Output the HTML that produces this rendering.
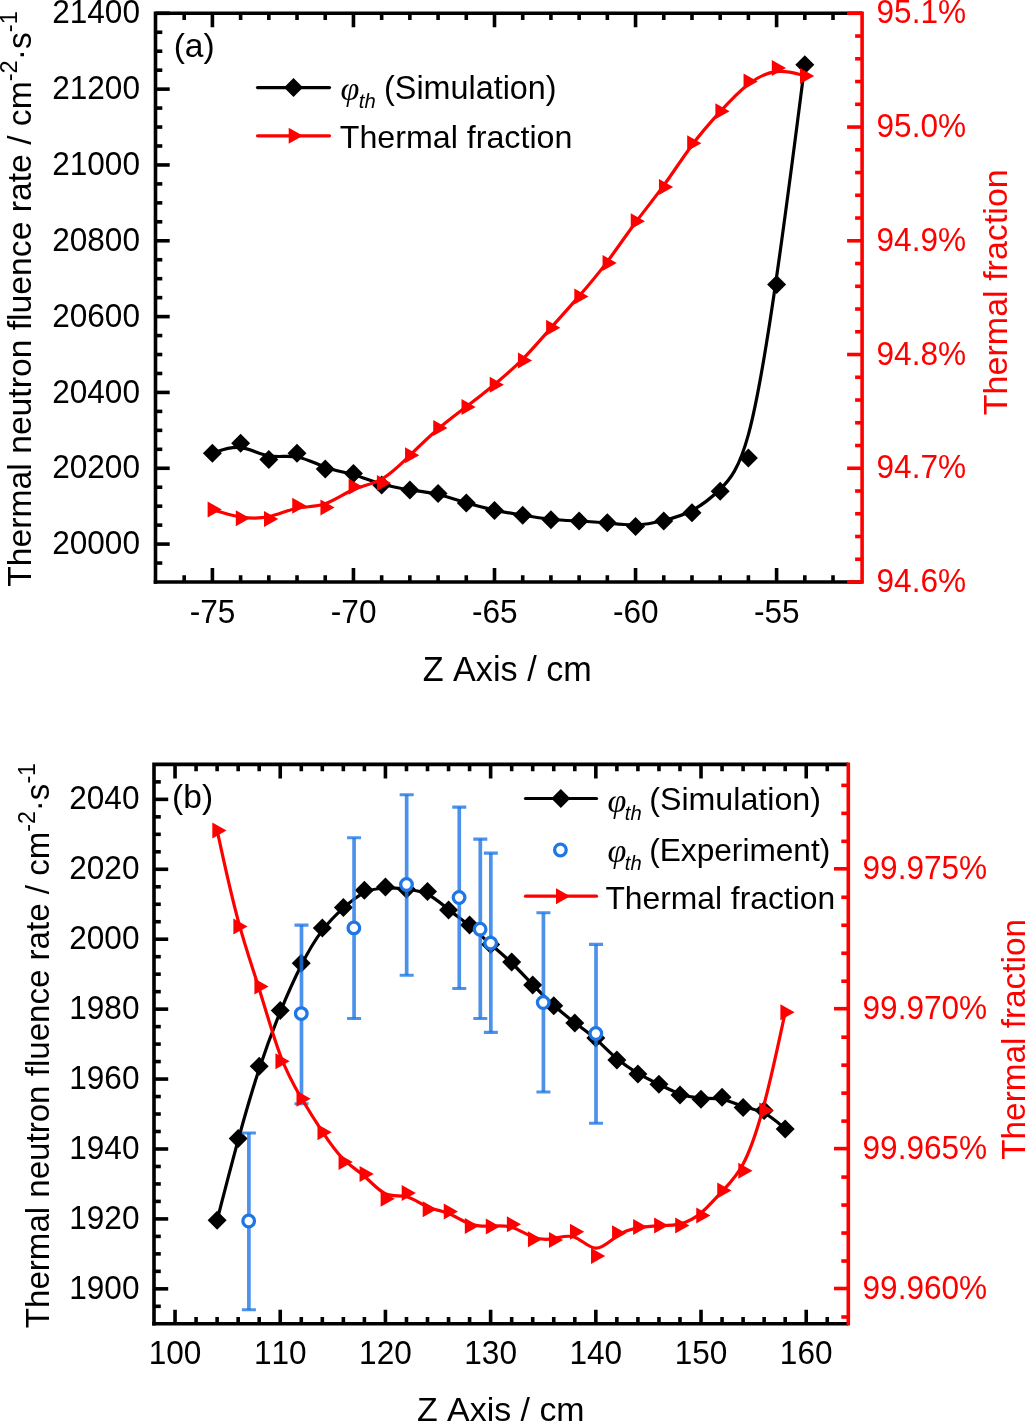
<!DOCTYPE html>
<html><head><meta charset="utf-8"><title>Thermal neutron fluence rate</title>
<style>html,body{margin:0;padding:0;background:#fff}svg{display:block}</style></head>
<body>
<svg width="1025" height="1421" viewBox="0 0 1025 1421" font-family="'Liberation Sans',sans-serif" fill="#000" style="font-kerning:none">
<rect width="1025" height="1421" fill="#fff"/>
<path d="M212.40 453.30 C212.40 453.30 212.40 453.30 217.10 451.62 C221.80 449.93 231.21 446.57 240.61 447.62 C250.01 448.67 259.42 454.13 268.82 455.82 C278.22 457.50 287.63 455.40 297.03 456.97 C306.43 458.53 315.84 463.77 325.24 467.15 C334.64 470.53 344.05 472.07 353.45 474.73 C362.85 477.40 372.26 481.20 381.66 483.93 C391.06 486.67 400.47 488.33 409.87 489.75 C419.27 491.17 428.68 492.33 438.08 494.52 C447.48 496.70 456.89 499.90 466.29 502.73 C475.69 505.57 485.10 508.03 494.50 510.07 C503.90 512.10 513.31 513.70 522.71 515.25 C532.11 516.80 541.52 518.30 550.92 519.23 C560.32 520.17 569.73 520.53 579.13 521.02 C588.53 521.50 597.94 522.10 607.34 523.03 C616.74 523.97 626.15 525.23 635.55 524.93 C644.95 524.63 654.36 522.77 663.76 520.47 C673.16 518.17 682.57 515.43 691.97 510.48 C701.37 505.53 710.78 498.37 720.18 489.23 C729.58 480.10 738.99 469.00 748.39 434.57 C757.79 400.13 767.20 342.37 776.60 276.83 C786.00 211.30 795.41 138.00 800.11 101.35 C804.81 64.70 804.81 64.70 804.81 64.70" fill="none" stroke="#000" stroke-width="3.20" stroke-linecap="round"/>
<g fill="#000"><path d="M202.90 453.30 L212.40 443.80 L221.90 453.30 L212.40 462.80Z"/><path d="M231.11 443.20 L240.61 433.70 L250.11 443.20 L240.61 452.70Z"/><path d="M259.32 459.60 L268.82 450.10 L278.32 459.60 L268.82 469.10Z"/><path d="M287.53 453.30 L297.03 443.80 L306.53 453.30 L297.03 462.80Z"/><path d="M315.74 469.00 L325.24 459.50 L334.74 469.00 L325.24 478.50Z"/><path d="M343.95 473.60 L353.45 464.10 L362.95 473.60 L353.45 483.10Z"/><path d="M372.16 485.00 L381.66 475.50 L391.16 485.00 L381.66 494.50Z"/><path d="M400.37 490.00 L409.87 480.50 L419.37 490.00 L409.87 499.50Z"/><path d="M428.58 493.50 L438.08 484.00 L447.58 493.50 L438.08 503.00Z"/><path d="M456.79 503.10 L466.29 493.60 L475.79 503.10 L466.29 512.60Z"/><path d="M485.00 510.50 L494.50 501.00 L504.00 510.50 L494.50 520.00Z"/><path d="M513.21 515.30 L522.71 505.80 L532.21 515.30 L522.71 524.80Z"/><path d="M541.42 519.80 L550.92 510.30 L560.42 519.80 L550.92 529.30Z"/><path d="M569.63 520.90 L579.13 511.40 L588.63 520.90 L579.13 530.40Z"/><path d="M597.84 522.70 L607.34 513.20 L616.84 522.70 L607.34 532.20Z"/><path d="M626.05 526.50 L635.55 517.00 L645.05 526.50 L635.55 536.00Z"/><path d="M654.26 520.90 L663.76 511.40 L673.26 520.90 L663.76 530.40Z"/><path d="M682.47 512.70 L691.97 503.20 L701.47 512.70 L691.97 522.20Z"/><path d="M710.68 491.20 L720.18 481.70 L729.68 491.20 L720.18 500.70Z"/><path d="M738.89 457.90 L748.39 448.40 L757.89 457.90 L748.39 467.40Z"/><path d="M767.10 284.60 L776.60 275.10 L786.10 284.60 L776.60 294.10Z"/><path d="M795.31 64.70 L804.81 55.20 L814.31 64.70 L804.81 74.20Z"/></g>
<path d="M212.40 509.50 C212.40 509.50 212.40 509.50 217.10 510.95 C221.80 512.40 231.21 515.30 240.61 516.88 C250.01 518.47 259.42 518.73 268.82 516.67 C278.22 514.60 287.63 510.20 297.03 508.27 C306.43 506.33 315.84 506.87 325.24 503.68 C334.64 500.50 344.05 493.60 353.45 489.55 C362.85 485.50 372.26 484.30 381.66 479.07 C391.06 473.83 400.47 464.57 409.87 455.38 C419.27 446.20 428.68 437.10 438.08 429.05 C447.48 421.00 456.89 414.00 466.29 406.78 C475.69 399.57 485.10 392.13 494.50 384.40 C503.90 376.67 513.31 368.63 522.71 359.13 C532.11 349.63 541.52 338.67 550.92 327.98 C560.32 317.30 569.73 306.90 579.13 296.12 C588.53 285.33 597.94 274.17 607.34 261.63 C616.74 249.10 626.15 235.20 635.55 222.53 C644.95 209.87 654.36 198.43 663.76 185.42 C673.16 172.40 682.57 157.80 691.97 145.18 C701.37 132.57 710.78 121.93 720.18 111.65 C729.58 101.37 738.99 91.43 748.39 84.22 C757.79 77.00 767.20 72.50 776.60 71.57 C786.00 70.63 795.41 73.27 800.11 74.58 C804.81 75.90 804.81 75.90 804.81 75.90" fill="none" stroke="#ff0000" stroke-width="3.20" stroke-linecap="round"/>
<g fill="#ff0000"><path d="M207.60 501.50 L221.80 509.50 L207.60 517.50Z"/><path d="M235.81 510.20 L250.01 518.20 L235.81 526.20Z"/><path d="M264.02 511.00 L278.22 519.00 L264.02 527.00Z"/><path d="M292.23 497.80 L306.43 505.80 L292.23 513.80Z"/><path d="M320.44 499.40 L334.64 507.40 L320.44 515.40Z"/><path d="M348.65 478.70 L362.85 486.70 L348.65 494.70Z"/><path d="M376.86 475.10 L391.06 483.10 L376.86 491.10Z"/><path d="M405.07 447.30 L419.27 455.30 L405.07 463.30Z"/><path d="M433.28 420.00 L447.48 428.00 L433.28 436.00Z"/><path d="M461.49 399.00 L475.69 407.00 L461.49 415.00Z"/><path d="M489.70 376.70 L503.90 384.70 L489.70 392.70Z"/><path d="M517.91 352.60 L532.11 360.60 L517.91 368.60Z"/><path d="M546.12 319.70 L560.32 327.70 L546.12 335.70Z"/><path d="M574.33 288.50 L588.53 296.50 L574.33 304.50Z"/><path d="M602.54 255.00 L616.74 263.00 L602.54 271.00Z"/><path d="M630.75 213.30 L644.95 221.30 L630.75 229.30Z"/><path d="M658.96 179.00 L673.16 187.00 L658.96 195.00Z"/><path d="M687.17 135.20 L701.37 143.20 L687.17 151.20Z"/><path d="M715.38 103.30 L729.58 111.30 L715.38 119.30Z"/><path d="M743.59 73.50 L757.79 81.50 L743.59 89.50Z"/><path d="M771.80 60.00 L786.00 68.00 L771.80 76.00Z"/><path d="M800.01 67.90 L814.21 75.90 L800.01 83.90Z"/></g>
<g stroke="#000" stroke-width="3.60" fill="none" stroke-linecap="butt">
<path d="M862.10 13.30 L155.50 13.30 L155.50 583.80"/>
<path d="M153.70 582.00 L862.10 582.00"/>
<path d="M212.40 582.00v-14 M212.40 13.30v14"/>
<path d="M353.45 582.00v-14 M353.45 13.30v14"/>
<path d="M494.50 582.00v-14 M494.50 13.30v14"/>
<path d="M635.55 582.00v-14 M635.55 13.30v14"/>
<path d="M776.60 582.00v-14 M776.60 13.30v14"/>
<path d="M184.19 582.00v-6.8 M184.19 13.30v6.8"/>
<path d="M240.61 582.00v-6.8 M240.61 13.30v6.8"/>
<path d="M268.82 582.00v-6.8 M268.82 13.30v6.8"/>
<path d="M297.03 582.00v-6.8 M297.03 13.30v6.8"/>
<path d="M325.24 582.00v-6.8 M325.24 13.30v6.8"/>
<path d="M381.66 582.00v-6.8 M381.66 13.30v6.8"/>
<path d="M409.87 582.00v-6.8 M409.87 13.30v6.8"/>
<path d="M438.08 582.00v-6.8 M438.08 13.30v6.8"/>
<path d="M466.29 582.00v-6.8 M466.29 13.30v6.8"/>
<path d="M522.71 582.00v-6.8 M522.71 13.30v6.8"/>
<path d="M550.92 582.00v-6.8 M550.92 13.30v6.8"/>
<path d="M579.13 582.00v-6.8 M579.13 13.30v6.8"/>
<path d="M607.34 582.00v-6.8 M607.34 13.30v6.8"/>
<path d="M663.76 582.00v-6.8 M663.76 13.30v6.8"/>
<path d="M691.97 582.00v-6.8 M691.97 13.30v6.8"/>
<path d="M720.18 582.00v-6.8 M720.18 13.30v6.8"/>
<path d="M748.39 582.00v-6.8 M748.39 13.30v6.8"/>
<path d="M804.81 582.00v-6.8 M804.81 13.30v6.8"/>
<path d="M833.02 582.00v-6.8 M833.02 13.30v6.8"/>
<path d="M155.50 544.09h14.2"/>
<path d="M155.50 468.26h14.2"/>
<path d="M155.50 392.43h14.2"/>
<path d="M155.50 316.61h14.2"/>
<path d="M155.50 240.78h14.2"/>
<path d="M155.50 164.95h14.2"/>
<path d="M155.50 89.13h14.2"/>
<path d="M155.50 13.30h14.2"/>
<path d="M155.50 563.04h6.8"/>
<path d="M155.50 525.13h6.8"/>
<path d="M155.50 506.17h6.8"/>
<path d="M155.50 487.22h6.8"/>
<path d="M155.50 449.30h6.8"/>
<path d="M155.50 430.35h6.8"/>
<path d="M155.50 411.39h6.8"/>
<path d="M155.50 373.48h6.8"/>
<path d="M155.50 354.52h6.8"/>
<path d="M155.50 335.56h6.8"/>
<path d="M155.50 297.65h6.8"/>
<path d="M155.50 278.69h6.8"/>
<path d="M155.50 259.74h6.8"/>
<path d="M155.50 221.82h6.8"/>
<path d="M155.50 202.87h6.8"/>
<path d="M155.50 183.91h6.8"/>
<path d="M155.50 146.00h6.8"/>
<path d="M155.50 127.04h6.8"/>
<path d="M155.50 108.08h6.8"/>
<path d="M155.50 70.17h6.8"/>
<path d="M155.50 51.21h6.8"/>
<path d="M155.50 32.26h6.8"/>
</g>
<g stroke="#ff0000" stroke-width="3.60" fill="none">
<path d="M862.10 11.50V583.80"/>
<path d="M862.10 582.00h-15.0"/>
<path d="M862.10 468.26h-15.0"/>
<path d="M862.10 354.52h-15.0"/>
<path d="M862.10 240.78h-15.0"/>
<path d="M862.10 127.04h-15.0"/>
<path d="M862.10 13.30h-15.0"/>
<path d="M862.10 559.25h-7"/>
<path d="M862.10 536.50h-7"/>
<path d="M862.10 513.76h-7"/>
<path d="M862.10 491.01h-7"/>
<path d="M862.10 445.51h-7"/>
<path d="M862.10 422.76h-7"/>
<path d="M862.10 400.02h-7"/>
<path d="M862.10 377.27h-7"/>
<path d="M862.10 331.77h-7"/>
<path d="M862.10 309.02h-7"/>
<path d="M862.10 286.28h-7"/>
<path d="M862.10 263.53h-7"/>
<path d="M862.10 218.03h-7"/>
<path d="M862.10 195.28h-7"/>
<path d="M862.10 172.54h-7"/>
<path d="M862.10 149.79h-7"/>
<path d="M862.10 104.29h-7"/>
<path d="M862.10 81.54h-7"/>
<path d="M862.10 58.80h-7"/>
<path d="M862.10 36.05h-7"/>
</g>
<g font-size="31.60" text-anchor="end">
<text transform="translate(140 554.19) scale(1 1.025)">20000</text>
<text transform="translate(140 478.36) scale(1 1.025)">20200</text>
<text transform="translate(140 402.53) scale(1 1.025)">20400</text>
<text transform="translate(140 326.71) scale(1 1.025)">20600</text>
<text transform="translate(140 250.88) scale(1 1.025)">20800</text>
<text transform="translate(140 175.05) scale(1 1.025)">21000</text>
<text transform="translate(140 99.23) scale(1 1.025)">21200</text>
<text transform="translate(140 23.40) scale(1 1.025)">21400</text>
</g>
<g font-size="31.60" text-anchor="middle">
<text transform="translate(212.60 623.3) scale(1 1.025)">-75</text>
<text transform="translate(353.65 623.3) scale(1 1.025)">-70</text>
<text transform="translate(494.70 623.3) scale(1 1.025)">-65</text>
<text transform="translate(635.75 623.3) scale(1 1.025)">-60</text>
<text transform="translate(776.80 623.3) scale(1 1.025)">-55</text>
</g>
<g font-size="31.60" fill="#ff0000">
<text transform="translate(876.5 592.10) scale(1 1.025)">94.6%</text>
<text transform="translate(876.5 478.36) scale(1 1.025)">94.7%</text>
<text transform="translate(876.5 364.62) scale(1 1.025)">94.8%</text>
<text transform="translate(876.5 250.88) scale(1 1.025)">94.9%</text>
<text transform="translate(876.5 137.14) scale(1 1.025)">95.0%</text>
<text transform="translate(876.5 23.40) scale(1 1.025)">95.1%</text>
</g>
<text x="507.2" y="680.8" font-size="34.20" text-anchor="middle">Z Axis / cm</text>
<text transform="translate(31.20 299.00) rotate(-90)" font-size="33.70" text-anchor="middle" fill="#000">Thermal neutron fluence rate / cm<tspan font-size="23.59" dy="-13.8">-2</tspan><tspan dy="13.8">·s</tspan><tspan font-size="23.59" dy="-13.8">-1</tspan></text>
<text transform="translate(1006.8 292.2) rotate(-90)" font-size="34.05" text-anchor="middle" fill="#ff0000">Thermal fraction</text>
<text x="173.7" y="56.9" font-size="33.60">(a)</text>
<path d="M257.5 87.6H329.5" stroke="#000" stroke-width="3.20" stroke-linecap="round"/>
<path d="M284.00 87.60 L293.50 78.10 L303.00 87.60 L293.50 97.10Z"/>
<path d="M257.5 135.8H329.5" stroke="#ff0000" stroke-width="3.20" stroke-linecap="round"/>
<g fill="#ff0000"><path d="M288.70 127.80 L302.90 135.80 L288.70 143.80Z"/></g>
<text x="340.50" y="100.00" font-size="34.13" font-family="'Liberation Serif',serif" font-style="italic">φ</text><text x="358.80" y="108.30" font-size="20.22" font-style="italic">th</text><text x="384.10" y="98.60" font-size="32.35">(Simulation)</text>
<text x="339.8" y="147.6" font-size="32.20">Thermal fraction</text>
<path d="M217.12 1220.20 C217.12 1220.20 217.12 1220.20 220.62 1206.58 C224.13 1192.97 231.14 1165.73 238.16 1140.07 C245.17 1114.40 252.18 1090.30 259.20 1068.95 C266.21 1047.60 273.22 1029.00 280.24 1011.83 C287.25 994.67 294.26 978.93 301.28 965.18 C308.29 951.43 315.30 939.67 322.32 930.40 C329.33 921.13 336.34 914.37 343.35 908.10 C350.37 901.83 357.38 896.07 364.39 892.65 C371.41 889.23 378.42 888.17 385.43 887.98 C392.45 887.80 399.46 888.50 406.47 889.25 C413.49 890.00 420.50 890.80 427.51 894.27 C434.53 897.73 441.54 903.87 448.55 909.45 C455.56 915.03 462.58 920.07 469.59 925.82 C476.60 931.57 483.62 938.03 490.63 944.20 C497.64 950.37 504.66 956.23 511.67 962.98 C518.68 969.73 525.70 977.37 532.71 984.65 C539.72 991.93 546.74 998.87 553.75 1005.22 C560.76 1011.57 567.77 1017.33 574.79 1022.70 C581.80 1028.07 588.81 1033.03 595.83 1039.17 C602.84 1045.30 609.85 1052.60 616.87 1058.58 C623.88 1064.57 630.89 1069.23 637.91 1073.28 C644.92 1077.33 651.93 1080.77 658.95 1084.28 C665.96 1087.80 672.97 1091.40 679.98 1093.90 C687.00 1096.40 694.01 1097.80 701.02 1098.17 C708.04 1098.53 715.05 1097.87 722.06 1099.27 C729.08 1100.67 736.09 1104.13 743.10 1106.37 C750.12 1108.60 757.13 1109.60 764.14 1113.15 C771.16 1116.70 778.17 1122.80 781.68 1125.85 C785.18 1128.90 785.18 1128.90 785.18 1128.90" fill="none" stroke="#000" stroke-width="3.20" stroke-linecap="round"/>
<g fill="#000"><path d="M207.62 1220.20 L217.12 1210.70 L226.62 1220.20 L217.12 1229.70Z"/><path d="M228.66 1138.50 L238.16 1129.00 L247.66 1138.50 L238.16 1148.00Z"/><path d="M249.70 1066.20 L259.20 1056.70 L268.70 1066.20 L259.20 1075.70Z"/><path d="M270.74 1010.40 L280.24 1000.90 L289.74 1010.40 L280.24 1019.90Z"/><path d="M291.78 963.20 L301.28 953.70 L310.78 963.20 L301.28 972.70Z"/><path d="M312.82 927.90 L322.32 918.40 L331.82 927.90 L322.32 937.40Z"/><path d="M333.85 907.60 L343.35 898.10 L352.85 907.60 L343.35 917.10Z"/><path d="M354.89 890.30 L364.39 880.80 L373.89 890.30 L364.39 899.80Z"/><path d="M375.93 887.10 L385.43 877.60 L394.93 887.10 L385.43 896.60Z"/><path d="M396.97 889.20 L406.47 879.70 L415.97 889.20 L406.47 898.70Z"/><path d="M418.01 891.60 L427.51 882.10 L437.01 891.60 L427.51 901.10Z"/><path d="M439.05 910.00 L448.55 900.50 L458.05 910.00 L448.55 919.50Z"/><path d="M460.09 925.10 L469.59 915.60 L479.09 925.10 L469.59 934.60Z"/><path d="M481.13 944.50 L490.63 935.00 L500.13 944.50 L490.63 954.00Z"/><path d="M502.17 962.10 L511.67 952.60 L521.17 962.10 L511.67 971.60Z"/><path d="M523.21 985.00 L532.71 975.50 L542.21 985.00 L532.71 994.50Z"/><path d="M544.25 1005.80 L553.75 996.30 L563.25 1005.80 L553.75 1015.30Z"/><path d="M565.29 1023.10 L574.79 1013.60 L584.29 1023.10 L574.79 1032.60Z"/><path d="M586.33 1038.00 L595.83 1028.50 L605.33 1038.00 L595.83 1047.50Z"/><path d="M607.37 1059.90 L616.87 1050.40 L626.37 1059.90 L616.87 1069.40Z"/><path d="M628.41 1073.90 L637.91 1064.40 L647.41 1073.90 L637.91 1083.40Z"/><path d="M649.45 1084.20 L658.95 1074.70 L668.45 1084.20 L658.95 1093.70Z"/><path d="M670.48 1095.00 L679.98 1085.50 L689.48 1095.00 L679.98 1104.50Z"/><path d="M691.52 1099.20 L701.02 1089.70 L710.52 1099.20 L701.02 1108.70Z"/><path d="M712.56 1097.20 L722.06 1087.70 L731.56 1097.20 L722.06 1106.70Z"/><path d="M733.60 1107.60 L743.10 1098.10 L752.60 1107.60 L743.10 1117.10Z"/><path d="M754.64 1110.60 L764.14 1101.10 L773.64 1110.60 L764.14 1120.10Z"/><path d="M775.68 1128.90 L785.18 1119.40 L794.68 1128.90 L785.18 1138.40Z"/></g>
<g stroke="#1f77e6" fill="none" stroke-opacity="0.8">
<path stroke-width="3.7" d="M248.88 1133.00V1309.80"/><path stroke-width="3.1" d="M241.88 1133.00h14 M241.88 1309.80h14"/>
<path stroke-width="3.7" d="M301.48 925.10V1103.80"/><path stroke-width="3.1" d="M294.48 925.10h14 M294.48 1103.80h14"/>
<path stroke-width="3.7" d="M354.07 837.80V1018.50"/><path stroke-width="3.1" d="M347.07 837.80h14 M347.07 1018.50h14"/>
<path stroke-width="3.7" d="M406.67 794.70V975.30"/><path stroke-width="3.1" d="M399.67 794.70h14 M399.67 975.30h14"/>
<path stroke-width="3.7" d="M459.27 807.10V988.50"/><path stroke-width="3.1" d="M452.27 807.10h14 M452.27 988.50h14"/>
<path stroke-width="3.7" d="M480.31 839.10V1018.50"/><path stroke-width="3.1" d="M473.31 839.10h14 M473.31 1018.50h14"/>
<path stroke-width="3.7" d="M490.83 853.10V1032.40"/><path stroke-width="3.1" d="M483.83 853.10h14 M483.83 1032.40h14"/>
<path stroke-width="3.7" d="M543.43 912.70V1092.00"/><path stroke-width="3.1" d="M536.43 912.70h14 M536.43 1092.00h14"/>
<path stroke-width="3.7" d="M596.03 944.40V1123.30"/><path stroke-width="3.1" d="M589.03 944.40h14 M589.03 1123.30h14"/>
</g>
<g stroke="#1f77e6" stroke-width="3.3" fill="#fff">
<circle cx="248.68" cy="1221.00" r="5.8"/>
<circle cx="301.28" cy="1013.60" r="5.8"/>
<circle cx="353.87" cy="927.90" r="5.8"/>
<circle cx="406.47" cy="884.50" r="5.8"/>
<circle cx="459.07" cy="897.50" r="5.8"/>
<circle cx="480.11" cy="929.20" r="5.8"/>
<circle cx="490.63" cy="943.10" r="5.8"/>
<circle cx="543.23" cy="1002.50" r="5.8"/>
<circle cx="595.83" cy="1033.50" r="5.8"/>
</g>
<path d="M217.12 830.40 C217.12 830.40 217.12 830.40 220.62 846.43 C224.13 862.47 231.14 894.53 238.16 920.55 C245.17 946.57 252.18 966.53 259.20 988.97 C266.21 1011.40 273.22 1036.30 280.24 1055.00 C287.25 1073.70 294.26 1086.20 301.28 1098.03 C308.29 1109.87 315.30 1121.03 322.32 1131.60 C329.33 1142.17 336.34 1152.13 343.35 1159.12 C350.37 1166.10 357.38 1170.10 364.39 1176.20 C371.41 1182.30 378.42 1190.50 385.43 1193.67 C392.45 1196.83 399.46 1194.97 406.47 1196.72 C413.49 1198.47 420.50 1203.83 427.51 1206.88 C434.53 1209.93 441.54 1210.67 448.55 1213.48 C455.56 1216.30 462.58 1221.20 469.59 1223.73 C476.60 1226.27 483.62 1226.43 490.63 1226.13 C497.64 1225.83 504.66 1225.07 511.67 1227.18 C518.68 1229.30 525.70 1234.30 532.71 1236.93 C539.72 1239.57 546.74 1239.83 553.75 1238.58 C560.76 1237.33 567.77 1234.57 574.79 1237.22 C581.80 1239.87 588.81 1247.93 595.83 1248.18 C602.84 1248.43 609.85 1240.87 616.87 1236.05 C623.88 1231.23 630.89 1229.17 637.91 1227.87 C644.92 1226.57 651.93 1226.03 658.95 1225.78 C665.96 1225.53 672.97 1225.57 679.98 1223.88 C687.00 1222.20 694.01 1218.80 701.02 1212.97 C708.04 1207.13 715.05 1198.87 722.06 1191.43 C729.08 1184.00 736.09 1177.40 743.10 1164.07 C750.12 1150.73 757.13 1130.67 764.14 1104.23 C771.16 1077.80 778.17 1045.00 781.68 1028.60 C785.18 1012.20 785.18 1012.20 785.18 1012.20" fill="none" stroke="#ff0000" stroke-width="3.20" stroke-linecap="round"/>
<g fill="#ff0000"><path d="M212.32 822.40 L226.52 830.40 L212.32 838.40Z"/><path d="M233.36 918.60 L247.56 926.60 L233.36 934.60Z"/><path d="M254.40 978.50 L268.60 986.50 L254.40 994.50Z"/><path d="M275.44 1053.20 L289.64 1061.20 L275.44 1069.20Z"/><path d="M296.48 1090.70 L310.68 1098.70 L296.48 1106.70Z"/><path d="M317.52 1124.20 L331.72 1132.20 L317.52 1140.20Z"/><path d="M338.55 1154.10 L352.75 1162.10 L338.55 1170.10Z"/><path d="M359.59 1166.10 L373.79 1174.10 L359.59 1182.10Z"/><path d="M380.63 1190.70 L394.83 1198.70 L380.63 1206.70Z"/><path d="M401.67 1185.10 L415.87 1193.10 L401.67 1201.10Z"/><path d="M422.71 1201.20 L436.91 1209.20 L422.71 1217.20Z"/><path d="M443.75 1203.40 L457.95 1211.40 L443.75 1219.40Z"/><path d="M464.79 1218.10 L478.99 1226.10 L464.79 1234.10Z"/><path d="M485.83 1218.60 L500.03 1226.60 L485.83 1234.60Z"/><path d="M506.87 1216.30 L521.07 1224.30 L506.87 1232.30Z"/><path d="M527.91 1231.30 L542.11 1239.30 L527.91 1247.30Z"/><path d="M548.95 1232.10 L563.15 1240.10 L548.95 1248.10Z"/><path d="M569.99 1223.80 L584.19 1231.80 L569.99 1239.80Z"/><path d="M591.03 1248.00 L605.23 1256.00 L591.03 1264.00Z"/><path d="M612.07 1225.30 L626.27 1233.30 L612.07 1241.30Z"/><path d="M633.11 1219.10 L647.31 1227.10 L633.11 1235.10Z"/><path d="M654.15 1217.50 L668.35 1225.50 L654.15 1233.50Z"/><path d="M675.18 1217.60 L689.38 1225.60 L675.18 1233.60Z"/><path d="M696.22 1207.40 L710.42 1215.40 L696.22 1223.40Z"/><path d="M717.26 1182.60 L731.46 1190.60 L717.26 1198.60Z"/><path d="M738.30 1162.80 L752.50 1170.80 L738.30 1178.80Z"/><path d="M759.34 1102.60 L773.54 1110.60 L759.34 1118.60Z"/><path d="M780.38 1004.20 L794.58 1012.20 L780.38 1020.20Z"/></g>
<g stroke="#000" stroke-width="3.60" fill="none" stroke-linecap="butt">
<path d="M848.30 764.40 L154.00 764.40 L154.00 1325.60"/>
<path d="M152.20 1323.80 L848.30 1323.80"/>
<path d="M175.04 1323.80v-14 M175.04 764.40v14"/>
<path d="M280.24 1323.80v-14 M280.24 764.40v14"/>
<path d="M385.43 1323.80v-14 M385.43 764.40v14"/>
<path d="M490.63 1323.80v-14 M490.63 764.40v14"/>
<path d="M595.83 1323.80v-14 M595.83 764.40v14"/>
<path d="M701.02 1323.80v-14 M701.02 764.40v14"/>
<path d="M806.22 1323.80v-14 M806.22 764.40v14"/>
<path d="M196.08 1323.80v-6.8 M196.08 764.40v6.8"/>
<path d="M217.12 1323.80v-6.8 M217.12 764.40v6.8"/>
<path d="M238.16 1323.80v-6.8 M238.16 764.40v6.8"/>
<path d="M259.20 1323.80v-6.8 M259.20 764.40v6.8"/>
<path d="M301.28 1323.80v-6.8 M301.28 764.40v6.8"/>
<path d="M322.32 1323.80v-6.8 M322.32 764.40v6.8"/>
<path d="M343.35 1323.80v-6.8 M343.35 764.40v6.8"/>
<path d="M364.39 1323.80v-6.8 M364.39 764.40v6.8"/>
<path d="M406.47 1323.80v-6.8 M406.47 764.40v6.8"/>
<path d="M427.51 1323.80v-6.8 M427.51 764.40v6.8"/>
<path d="M448.55 1323.80v-6.8 M448.55 764.40v6.8"/>
<path d="M469.59 1323.80v-6.8 M469.59 764.40v6.8"/>
<path d="M511.67 1323.80v-6.8 M511.67 764.40v6.8"/>
<path d="M532.71 1323.80v-6.8 M532.71 764.40v6.8"/>
<path d="M553.75 1323.80v-6.8 M553.75 764.40v6.8"/>
<path d="M574.79 1323.80v-6.8 M574.79 764.40v6.8"/>
<path d="M616.87 1323.80v-6.8 M616.87 764.40v6.8"/>
<path d="M637.91 1323.80v-6.8 M637.91 764.40v6.8"/>
<path d="M658.95 1323.80v-6.8 M658.95 764.40v6.8"/>
<path d="M679.98 1323.80v-6.8 M679.98 764.40v6.8"/>
<path d="M722.06 1323.80v-6.8 M722.06 764.40v6.8"/>
<path d="M743.10 1323.80v-6.8 M743.10 764.40v6.8"/>
<path d="M764.14 1323.80v-6.8 M764.14 764.40v6.8"/>
<path d="M785.18 1323.80v-6.8 M785.18 764.40v6.8"/>
<path d="M827.26 1323.80v-6.8 M827.26 764.40v6.8"/>
<path d="M154.00 1288.84h14.2"/>
<path d="M154.00 1218.91h14.2"/>
<path d="M154.00 1148.99h14.2"/>
<path d="M154.00 1079.06h14.2"/>
<path d="M154.00 1009.14h14.2"/>
<path d="M154.00 939.21h14.2"/>
<path d="M154.00 869.29h14.2"/>
<path d="M154.00 799.36h14.2"/>
<path d="M154.00 1306.32h6.8"/>
<path d="M154.00 1271.36h6.8"/>
<path d="M154.00 1253.88h6.8"/>
<path d="M154.00 1236.39h6.8"/>
<path d="M154.00 1201.43h6.8"/>
<path d="M154.00 1183.95h6.8"/>
<path d="M154.00 1166.47h6.8"/>
<path d="M154.00 1131.51h6.8"/>
<path d="M154.00 1114.03h6.8"/>
<path d="M154.00 1096.54h6.8"/>
<path d="M154.00 1061.58h6.8"/>
<path d="M154.00 1044.10h6.8"/>
<path d="M154.00 1026.62h6.8"/>
<path d="M154.00 991.66h6.8"/>
<path d="M154.00 974.17h6.8"/>
<path d="M154.00 956.69h6.8"/>
<path d="M154.00 921.73h6.8"/>
<path d="M154.00 904.25h6.8"/>
<path d="M154.00 886.77h6.8"/>
<path d="M154.00 851.81h6.8"/>
<path d="M154.00 834.32h6.8"/>
<path d="M154.00 816.84h6.8"/>
<path d="M154.00 781.88h6.8"/>
</g>
<g stroke="#ff0000" stroke-width="3.60" fill="none">
<path d="M848.30 762.60V1325.60"/>
<path d="M848.30 868.80h-14.3"/>
<path d="M848.30 1008.70h-14.3"/>
<path d="M848.30 1148.60h-14.3"/>
<path d="M848.30 1288.50h-14.3"/>
<path d="M848.30 785.36h-7"/>
<path d="M848.30 813.34h-7"/>
<path d="M848.30 841.32h-7"/>
<path d="M848.30 897.28h-7"/>
<path d="M848.30 925.26h-7"/>
<path d="M848.30 953.24h-7"/>
<path d="M848.30 981.22h-7"/>
<path d="M848.30 1037.18h-7"/>
<path d="M848.30 1065.16h-7"/>
<path d="M848.30 1093.14h-7"/>
<path d="M848.30 1121.12h-7"/>
<path d="M848.30 1177.08h-7"/>
<path d="M848.30 1205.06h-7"/>
<path d="M848.30 1233.04h-7"/>
<path d="M848.30 1261.02h-7"/>
<path d="M848.30 1316.98h-7"/>
</g>
<g font-size="31.60" text-anchor="end">
<text transform="translate(139.5 1298.94) scale(1 1.025)">1900</text>
<text transform="translate(139.5 1229.01) scale(1 1.025)">1920</text>
<text transform="translate(139.5 1159.09) scale(1 1.025)">1940</text>
<text transform="translate(139.5 1089.16) scale(1 1.025)">1960</text>
<text transform="translate(139.5 1019.24) scale(1 1.025)">1980</text>
<text transform="translate(139.5 949.31) scale(1 1.025)">2000</text>
<text transform="translate(139.5 879.39) scale(1 1.025)">2020</text>
<text transform="translate(139.5 809.46) scale(1 1.025)">2040</text>
</g>
<g font-size="31.60" text-anchor="middle">
<text transform="translate(175.04 1363.6) scale(1 1.025)">100</text>
<text transform="translate(280.24 1363.6) scale(1 1.025)">110</text>
<text transform="translate(385.43 1363.6) scale(1 1.025)">120</text>
<text transform="translate(490.63 1363.6) scale(1 1.025)">130</text>
<text transform="translate(595.83 1363.6) scale(1 1.025)">140</text>
<text transform="translate(701.02 1363.6) scale(1 1.025)">150</text>
<text transform="translate(806.22 1363.6) scale(1 1.025)">160</text>
</g>
<g font-size="31.60" fill="#ff0000">
<text transform="translate(862.5 879.10) scale(1 1.025)">99.975%</text>
<text transform="translate(862.5 1019.00) scale(1 1.025)">99.970%</text>
<text transform="translate(862.5 1158.90) scale(1 1.025)">99.965%</text>
<text transform="translate(862.5 1298.80) scale(1 1.025)">99.960%</text>
</g>
<text x="500.8" y="1420.6" font-size="33.90" text-anchor="middle">Z Axis / cm</text>
<text transform="translate(49.00 1045.60) rotate(-90)" font-size="33.10" text-anchor="middle" fill="#000">Thermal neutron fluence rate / cm<tspan font-size="23.17" dy="-13.8">-2</tspan><tspan dy="13.8">·s</tspan><tspan font-size="23.17" dy="-13.8">-1</tspan></text>
<text transform="translate(1025 1039.4) rotate(-90)" font-size="33.35" text-anchor="middle" fill="#ff0000">Thermal fraction</text>
<text x="172.1" y="807.9" font-size="33.50">(b)</text>
<path d="M525.5 798.5H596.5" stroke="#000" stroke-width="3.20" stroke-linecap="round"/>
<path d="M551.30 798.50 L560.80 789.00 L570.30 798.50 L560.80 808.00Z"/>
<circle cx="560.4" cy="850" r="5.8" stroke="#1f77e6" stroke-width="3.3" fill="#fff"/>
<path d="M525.5 896.2H596.5" stroke="#ff0000" stroke-width="3.20" stroke-linecap="round"/>
<g fill="#ff0000"><path d="M556.00 888.20 L570.20 896.20 L556.00 904.20Z"/></g>
<text x="607.40" y="811.50" font-size="34.13" font-family="'Liberation Serif',serif" font-style="italic">φ</text><text x="624.80" y="819.80" font-size="20.22" font-style="italic">th</text><text x="649.20" y="810.10" font-size="32.20">(Simulation)</text>
<text x="607.40" y="861.90" font-size="34.13" font-family="'Liberation Serif',serif" font-style="italic">φ</text><text x="624.80" y="870.20" font-size="20.22" font-style="italic">th</text><text x="649.20" y="860.50" font-size="31.65">(Experiment)</text>
<text x="605.4" y="909.1" font-size="31.80">Thermal fraction</text>
</svg>
</body></html>
